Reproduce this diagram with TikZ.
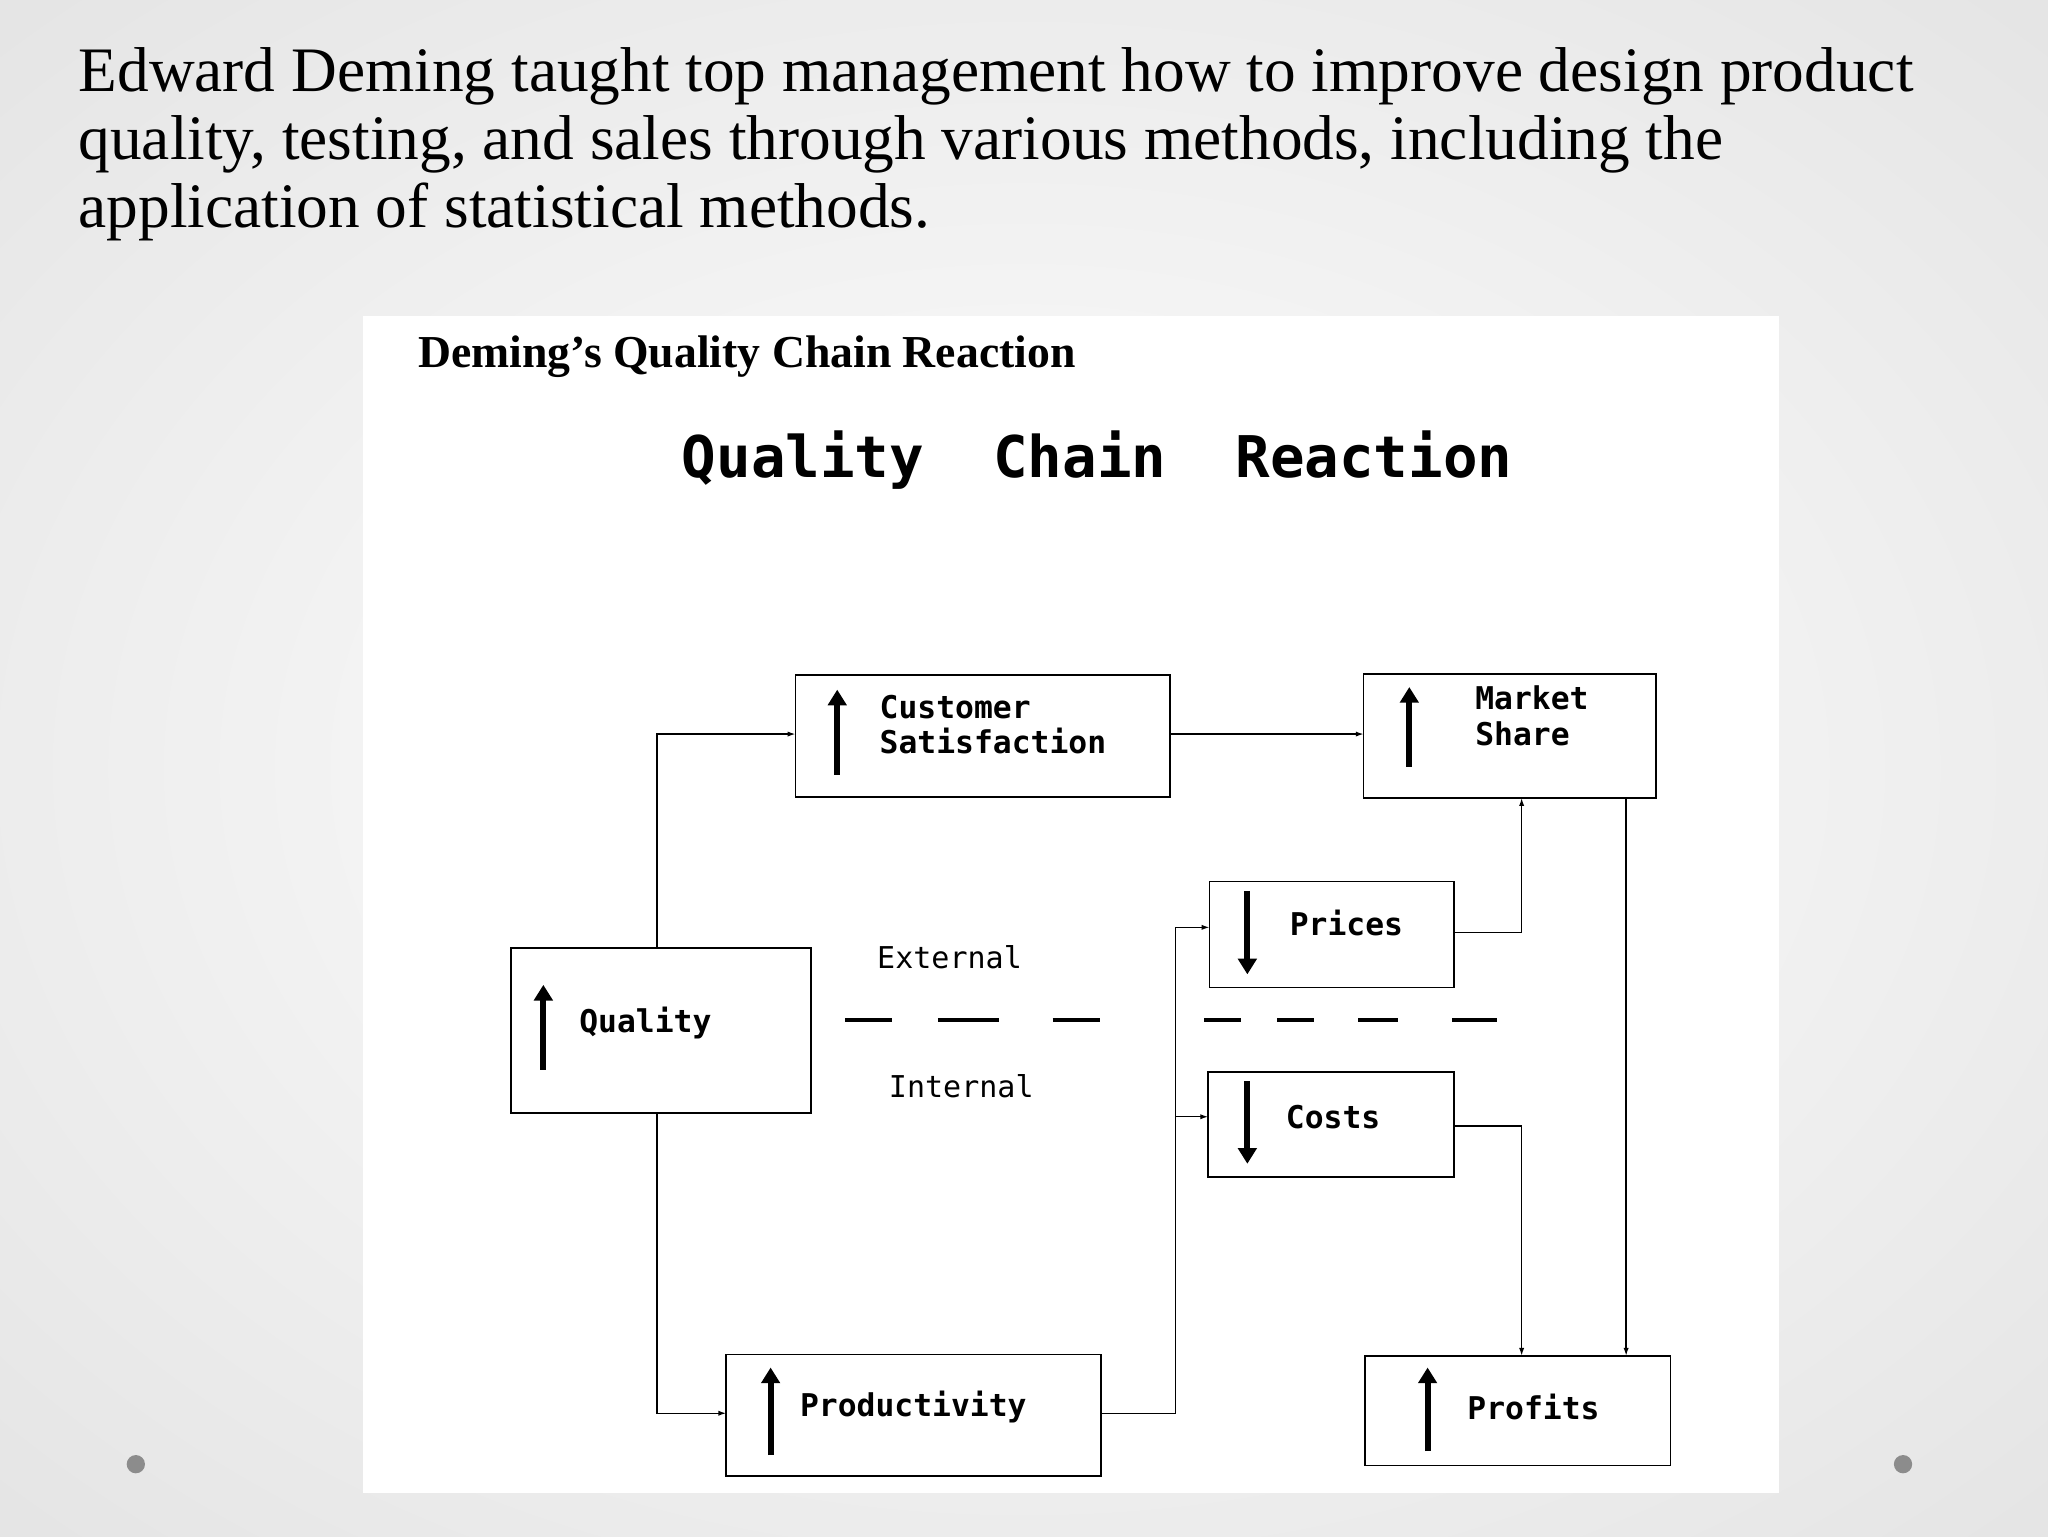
\documentclass[tikz,border=0pt]{standalone}
\usepackage{fontspec}
\setmainfont{Liberation Serif}
\newfontfamily\boxfont{DejaVu Sans Mono}
\usetikzlibrary{arrows.meta}
\begin{document}
\begin{tikzpicture}[x=1pt,y=-1pt,
  bx/.style={draw,line width=1.3pt,fill=white},
  con/.style={line width=1pt,-{Latex[length=6pt,width=4pt]}},
  ln/.style={line width=1pt},
  big/.style={line width=4.5pt,-{Triangle[length=12pt,width=14pt]}},
  lbl/.style={font=\boxfont\bfseries\fontsize{24}{27}\selectfont,align=left,anchor=west}]
\useasboundingbox (0,0) rectangle (1568,1176);
\shade[inner color=white,outer color=black!10] (-300,-200) rectangle (1868,1376);
\fill[white] (278,242) rectangle (1362,1143);
\fill[black!45] (104,1121) circle (7);
\fill[black!45] (1457,1121) circle (7);
\node[anchor=north west,align=left,font=\fontsize{48.5}{52}\selectfont,inner sep=0] (intro) at (60,36)
 {Edward Deming taught top management how to improve design product\\quality, testing, and sales through various methods, including the\\application of statistical methods.};
\node[anchor=west,font=\bfseries\fontsize{35}{38}\selectfont,inner sep=0] (sub) at (320,273) {Deming's Quality Chain Reaction};
\node[font=\boxfont\bfseries\fontsize{44}{48}\selectfont,inner sep=0] (title) at (840,352) {Quality\ \ Chain\ \ Reaction};
% boxes
\draw[bx] (609,517) rectangle (896,610);
\draw[bx] (1044,516) rectangle (1268,611);
\draw[bx] (926,675) rectangle (1113,756);
\draw[bx] (391,726) rectangle (621,852);
\draw[bx] (925,821) rectangle (1113,901);
\draw[bx] (556,1037) rectangle (843,1130);
\draw[bx] (1045,1038) rectangle (1279,1122);
% labels
\node[lbl] (cst) at (670,555) {Customer\\Satisfaction};
\node[lbl] (mst) at (1126,548) {Market\\Share};
\node[lbl] (prt) at (984,707) {Prices};
\node[lbl] (qt) at (440,783) {Quality};
\node[lbl] (cot) at (981,855) {Costs};
\node[lbl] (pdt) at (609,1077) {Productivity};
\node[lbl] (pft) at (1120,1077) {Profits};
\node[font=\boxfont\fontsize{23}{26}\selectfont] (ext) at (727,733) {External};
\node[font=\boxfont\fontsize{23}{26}\selectfont] (int) at (736,832) {Internal};
% big arrows
\draw[big] (641,593) -- (641,528);
\draw[big] (1079,587) -- (1079,526);
\draw[big] (955,682) -- (955,746);
\draw[big] (416,819) -- (416,754);
\draw[big] (955,828) -- (955,891);
\draw[big] (590,1114) -- (590,1047);
\draw[big] (1093,1111) -- (1093,1047);
% connectors
\coordinate (q1) at (503,726); \coordinate (q2) at (503,852);
\draw[con] (q1) |- (609,562);
\draw[con] (q2) |- (556,1082);
\draw[con] (896,562) -- (1044,562);
\draw[ln] (843,1082) -| (900,710);
\draw[con] (900,710) -- (926,710);
\draw[con] (900,855) -- (925,855);
\draw[con] (1113,714) -| (1165,611);
\draw[con] (1113,862) -| (1165,1038);
\draw[con] (1245,611) -- (1245,1038);
% dashes
\foreach \a/\b in {647/683,718/765,806/842,922/950,978/1006,1040/1070,1112/1146}
  \draw[line width=2.5pt] (\a,781) -- (\b,781);
\end{tikzpicture}
\end{document}
